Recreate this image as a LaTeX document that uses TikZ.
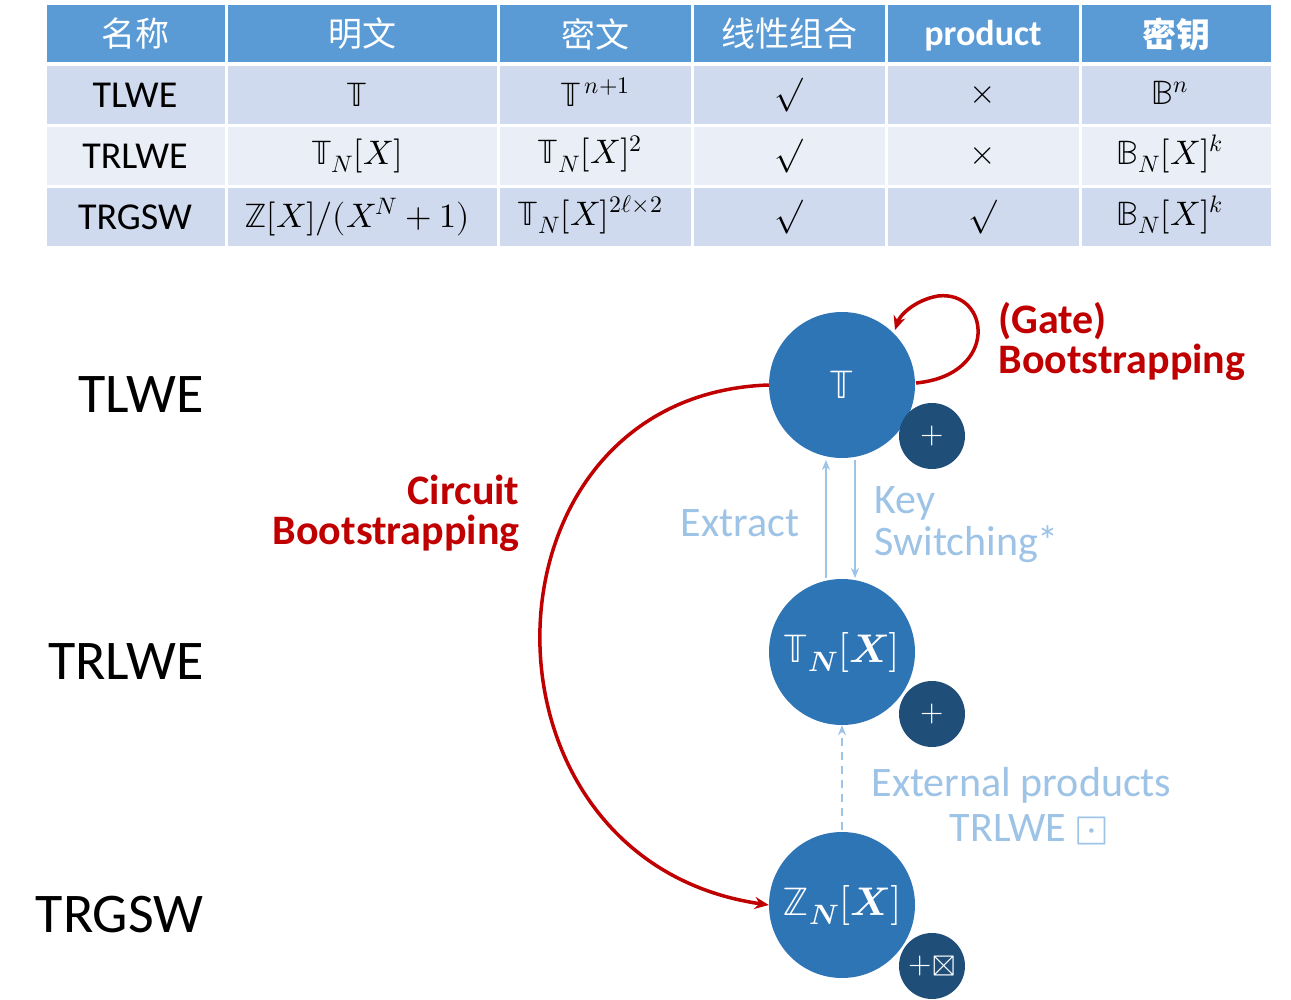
\documentclass[tikz,border=0pt]{standalone}
\usepackage{fontspec}
\usepackage{unicode-math}
\setmainfont{Carlito}
\setmathfont{Latin Modern Math}
\newfontfamily\cjk{Noto Sans CJK SC}
\usetikzlibrary{arrows.meta}
\definecolor{hdr}{HTML}{5B9BD5}
\definecolor{rowa}{HTML}{CFDAEE}
\definecolor{rowb}{HTML}{E9EEF7}
\definecolor{big}{HTML}{2E75B6}
\definecolor{small}{HTML}{1F4E79}
\definecolor{lb}{HTML}{9DC3E6}
\definecolor{rd}{HTML}{C00000}
\tikzset{
  cell/.style={anchor=center,inner sep=0pt},
  mcell/.style={anchor=center,inner sep=0pt,font=\fontsize{34}{38}\selectfont},
  bigc/.style={circle,fill=big,minimum size=146pt,inner sep=0pt,text=white,font=\fontsize{40}{44}\selectfont},
  smallc/.style={circle,fill=small,minimum size=66pt,inner sep=0pt,text=white,font=\fontsize{30}{32}\selectfont},
  side/.style={anchor=east,font=\fontsize{56}{60}\selectfont},
  lbl/.style={text=lb,font=\fontsize{42}{46}\selectfont,align=left},
  rlbl/.style={text=rd,font=\bfseries\fontsize{42}{46}\selectfont},
  la/.style={draw=lb,line width=2pt,-{Stealth[length=10pt,width=8pt]}},
  ra/.style={draw=rd,line width=3.5pt,-{Stealth[length=14pt,width=12pt]}}
}
\begin{document}
\begin{tikzpicture}[x=1pt,y=-1pt]
\useasboundingbox (0,0) rectangle (1291,1000);
\fill[white] (0,0) rectangle (1291,1000);
% table
\def\xs{{45,226,498,692,886,1080,1272}}
\foreach \i in {0,...,5}{
  \pgfmathsetmacro\xa{\xs[\i]+1.5}\pgfmathsetmacro\xb{\xs[\i+1]-1.5}
  \fill[hdr] (\xa,5) rectangle (\xb,62);
  \fill[rowa] (\xa,66) rectangle (\xb,124);
  \fill[rowb] (\xa,127) rectangle (\xb,185);
  \fill[rowa] (\xa,188) rectangle (\xb,246);
}
\node[cell,text=white,font=\cjk\fontsize{34}{38}\selectfont] (h1) at (135,34) {名称};
\node[cell,text=white,font=\cjk\fontsize{34}{38}\selectfont] (h2) at (362,34) {明文};
\node[cell,text=white,font=\cjk\fontsize{34}{38}\selectfont] (h3) at (595,34) {密文};
\node[cell,text=white,font=\cjk\fontsize{34}{38}\selectfont] (h4) at (789,34) {线性组合};
\node[cell,text=white,font=\bfseries\fontsize{36}{40}\selectfont] (h5) at (983,36) {product};
\node[cell,text=white,font=\cjk\bfseries\fontsize{34}{38}\selectfont] (h6) at (1176,34) {密钥};
\begin{scope}[every node/.style={cell,font=\fontsize{38}{42}\selectfont}]
\node (a1) at (135,95) {TLWE};
\node (b1) at (135,156) {TRLWE};
\node (c1) at (135,217) {TRGSW};
\end{scope}
\begin{scope}[every node/.style={mcell}]
\node (a2) at (357,95) {$\mathbb{T}$};
\node (a3) at (595,92) {$\mathbb{T}^{\,n+1}$};
\node (a4) at (789,95) {$\surd$};
\node (a5) at (983,95) {$\times$};
\node (a6) at (1170,93) {$\mathbb{B}^n$};
\node (b2) at (357,156) {$\mathbb{T}_N[X]$};
\node (b3) at (590,154) {$\mathbb{T}_N[X]^2$};
\node (b4) at (789,156) {$\surd$};
\node (b5) at (983,156) {$\times$};
\node (b6) at (1170,154) {$\mathbb{B}_N[X]^k$};
\node (c2) at (357,217) {$\mathbb{Z}[X]/(X^N+1)$};
\node (c3) at (590,215) {$\mathbb{T}_N[X]^{2\ell\times2}$};
\node (c4) at (789,217) {$\surd$};
\node (c5) at (983,217) {$\surd$};
\node (c6) at (1170,215) {$\mathbb{B}_N[X]^k$};
\end{scope}
% side labels
\node[side] (s1) at (207,395) {TLWE};
\node[side] (s2) at (207,662) {TRLWE};
\node[side] (s3) at (207,915) {TRGSW};
% circles
\node[bigc] (T) at (842,385) {$\mathbb{T}$};
\node[bigc] (TN) at (842,652) {$\mathbb{T}_{\symbfit{N}}[\symbfit{X}]$};
\node[bigc] (ZN) at (842,905) {$\mathbb{Z}_{\symbfit{N}}[\symbfit{X}]$};
\node[smallc] (p1) at (932,436) {$+$};
\node[smallc] (p2) at (932,714) {$+$};
\node[smallc] (p3) at (932,966) {$+{\boxtimes}$};
% light arrows
\draw[la] (826,578) coordinate(e1) -- (826,460) coordinate(e2);
\draw[la] (855,460) coordinate(k1) -- (855,578) coordinate(k2);
\draw[la,dash pattern=on 8pt off 6pt] (842,830) coordinate(d1) -- (TN.south);
\node[lbl,anchor=east] (ex) at (803,523) {Extract};
\node[lbl,anchor=west] (ks) at (871,525) {Key\\[-4pt]Switching*};
\node[lbl,anchor=west] (ep) at (868,785) {External products};
\node[lbl,anchor=east] (tr) at (1112,830) {TRLWE $\boxdot$};
% red arrows
\draw[ra] (916,383) .. controls (1000,375) and (990,290) .. (938,296) .. controls (915,300) and (900,315) .. (895,330);
\draw[ra] (T.west) .. controls (470,395) and (460,860) .. (ZN.west);
\node[rlbl,anchor=west,align=left] (gb) at (995,341) {(Gate)\\[-6pt]Bootstrapping};
\node[rlbl,anchor=east,align=right] (cb) at (523,513) {Circuit\\[-6pt]Bootstrapping};
\end{tikzpicture}
\end{document}
